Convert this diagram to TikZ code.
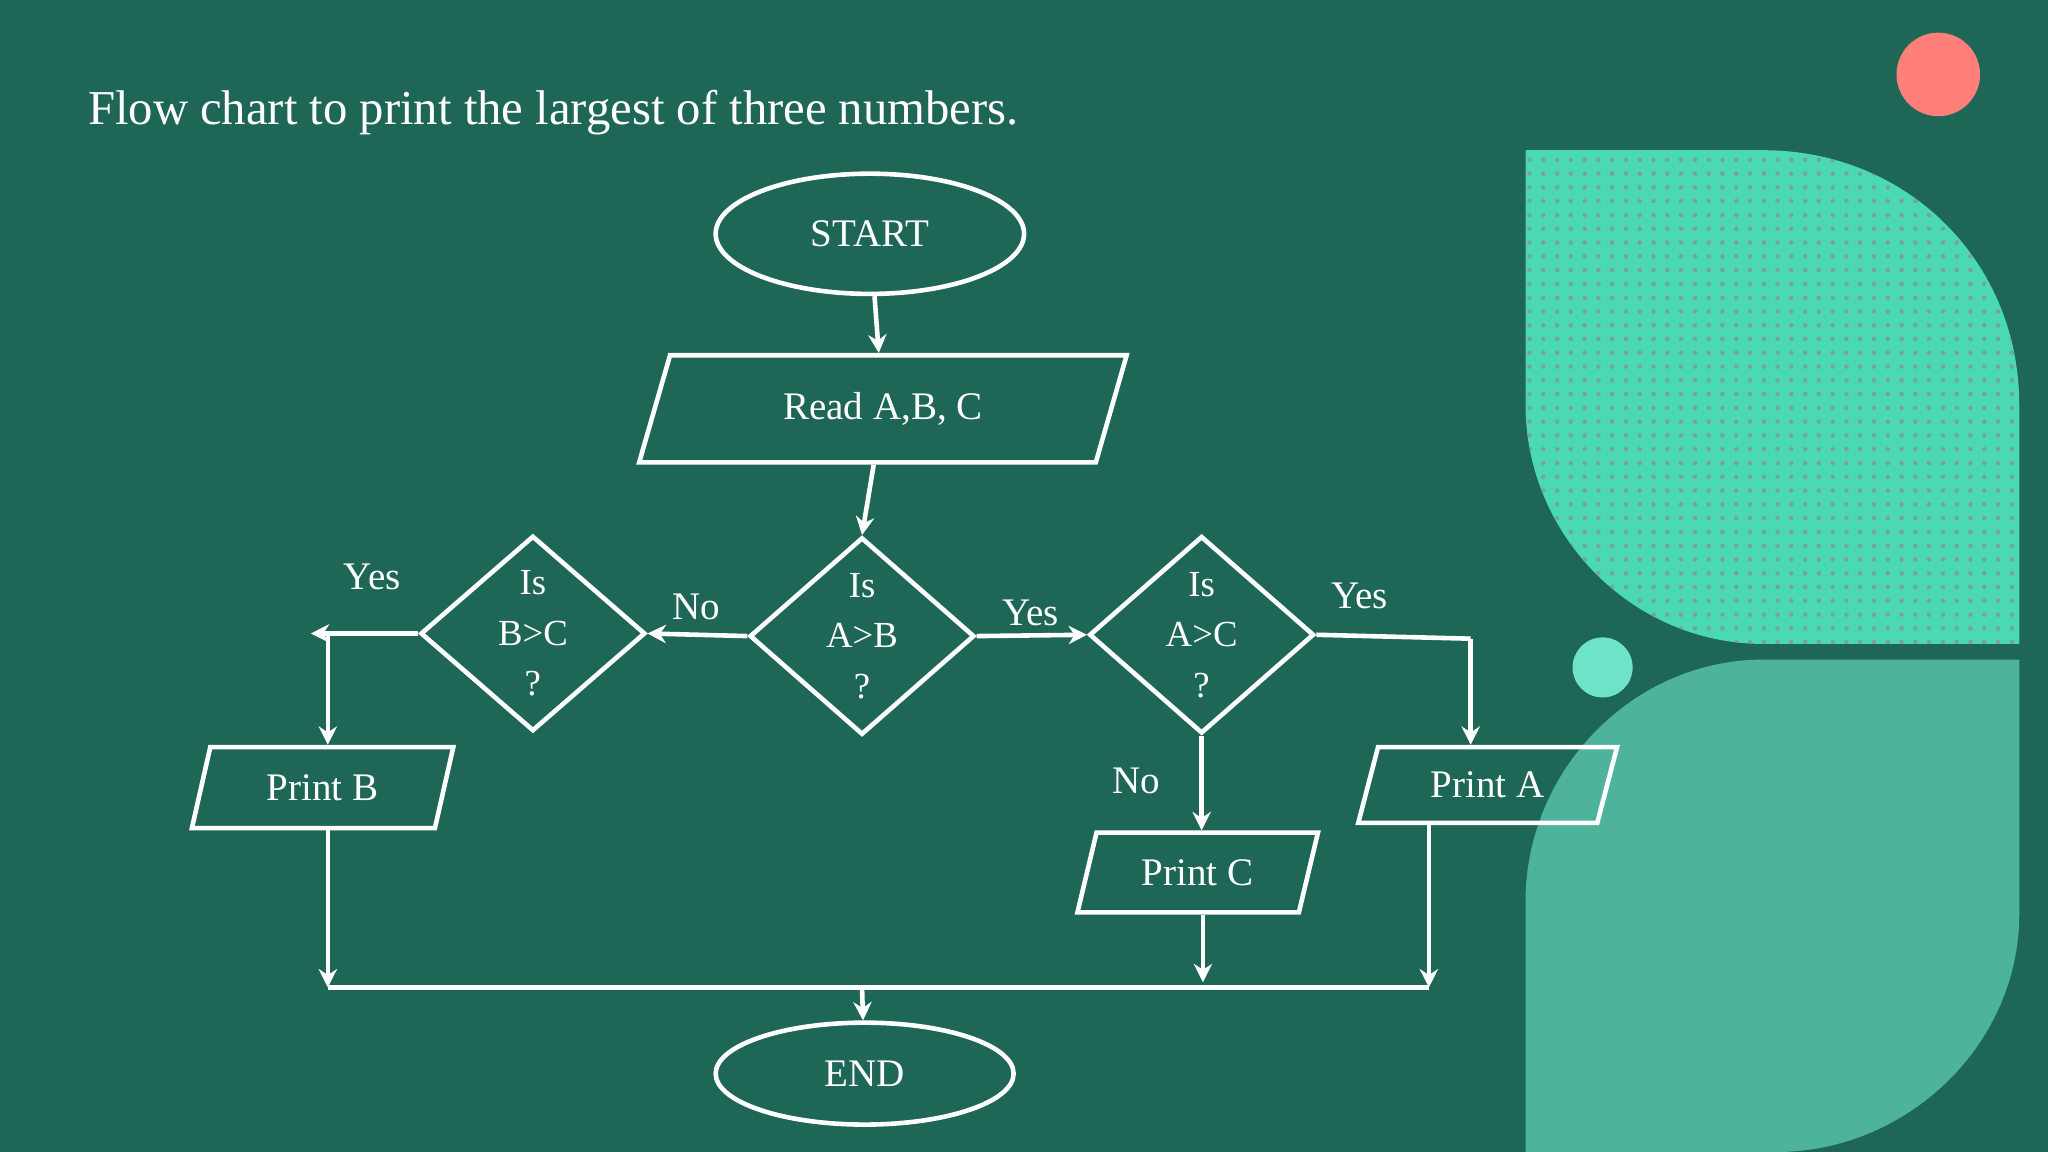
\documentclass[tikz,border=0pt]{standalone}
\usepackage{fontspec}
\setmainfont{Liberation Serif}
\usetikzlibrary{shapes.geometric,patterns,arrows.meta}
\definecolor{bgGreen}{HTML}{1E6655}
\definecolor{dotTeal}{HTML}{4AD9B3}
\definecolor{lowTeal}{HTML}{4DB39A}
\definecolor{softTeal}{HTML}{6EE3C8}
\definecolor{coral}{HTML}{FF7F7A}
\tikzset{
  box/.style={draw=white, line width=1pt, text=white, font=\fontsize{8.5}{10}\selectfont},
  term/.style={box, ellipse, minimum width=2.36cm, minimum height=0.92cm},
  decide/.style={box, diamond, minimum width=1.72cm, minimum height=1.38cm, inner sep=0pt, align=center, font=\fontsize{8}{11}\selectfont},
  io/.style={box, trapezium, trapezium stretches body=true, inner sep=0pt},
  flow/.style={draw=white, line width=1pt, -{Stealth[length=4pt,width=4pt]}},
  lbl/.style={text=white, font=\fontsize{8.5}{10}\selectfont}
}
\begin{document}
\begin{tikzpicture}[x=0.01cm,y=-0.01cm]
    % background
    \fill[bgGreen] (0,0) rectangle (1568,882);
    \useasboundingbox (0,0) rectangle (1568,882);
    \fill[coral] (1484,57) circle (32);
    \fill[softTeal] (1227,511) circle (23);
    \fill[dotTeal] (1168,115) -- (1350,115) .. controls (1460,115) and (1546,200) .. (1546,310)
        -- (1546,493) -- (1350,493) .. controls (1250,493) and (1168,410) .. (1168,310) -- cycle;
    \fill[pattern=dots, pattern color=bgGreen!60] (1168,115) -- (1350,115) .. controls (1460,115) and (1546,200) .. (1546,310)
        -- (1546,493) -- (1350,493) .. controls (1250,493) and (1168,410) .. (1168,310) -- cycle;
    \fill[lowTeal] (1168,882) -- (1168,690) .. controls (1168,590) and (1250,505) .. (1350,505)
        -- (1546,505) -- (1546,700) .. controls (1546,800) and (1460,882) .. (1360,882) -- cycle;

    % title
    \node[text=white, anchor=west, font=\fontsize{10.6}{12}\selectfont] (title) at (55,86) {Flow chart to print the largest of three numbers.};

    % nodes
    \node[term] (start) at (666,179) {START};
    \node[io, trapezium left angle=47, trapezium right angle=133, minimum width=3.73cm, minimum height=0.82cm] (read) at (676,313) {Read A,B, C};
    \node[decide] (ab) at (660,487) {Is\\A>B\\?};
    \node[decide] (bc) at (408,485) {Is\\B>C\\?};
    \node[decide] (ac) at (920,486) {Is\\A>C\\?};
    \node[io, trapezium left angle=55, trapezium right angle=125, minimum width=2cm, minimum height=0.62cm] (pb) at (247,603) {Print B};
    \node[io, trapezium left angle=53, trapezium right angle=127, minimum width=1.98cm, minimum height=0.58cm] (pa) at (1139,601) {Print A};
    \node[io, trapezium left angle=54, trapezium right angle=126, minimum width=1.84cm, minimum height=0.61cm] (pc) at (917,668) {Print C};
    \node[term, minimum width=2.28cm, minimum height=0.78cm] (end) at (662,822) {END};

    % junctions
    \coordinate (bcEnd) at (238,485);
    \coordinate (bTurn) at (251,486);
    \coordinate (aTurn) at (1126,489);
    \coordinate (joinL) at (251,756);
    \coordinate (joinR) at (1094,756);
    \coordinate (joinM) at (660,756);

    % connectors
    \draw[flow] (start) -- (read);
    \draw[flow] (read) -- (ab.north);
    \draw[flow] (ab.west) -- (bc.east);
    \draw[flow] (ab.east) -- (ac.west);
    \draw[flow] (bc.west) -- (bcEnd);
    \draw[flow] (bTurn) -- (bTurn |- pb.north);
    \draw[flow, -] (ac.east) -- (aTurn);
    \draw[flow] (aTurn) -- (aTurn |- pa.north);
    \draw[flow] (ac.south) -- (ac.south |- pc.north);
    \draw[flow] (bTurn |- pb.south) -- (joinL);
    \draw[flow] (pc.south -| 921,0) -- (921,752);
    \draw[flow] (joinR |- pa.south) -- (joinR);
    \draw[flow, -] (joinL) -- (joinR);
    \draw[flow] (joinM) -- (end);

    % labels
    \node[lbl] (yesB) at (285,442) {Yes};
    \node[lbl] (noAB) at (533,465) {No};
    \node[lbl] (yesAB) at (789,469) {Yes};
    \node[lbl] (yesA) at (1041,456) {Yes};
    \node[lbl] (noAC) at (870,598) {No};
\end{tikzpicture}
\end{document}
